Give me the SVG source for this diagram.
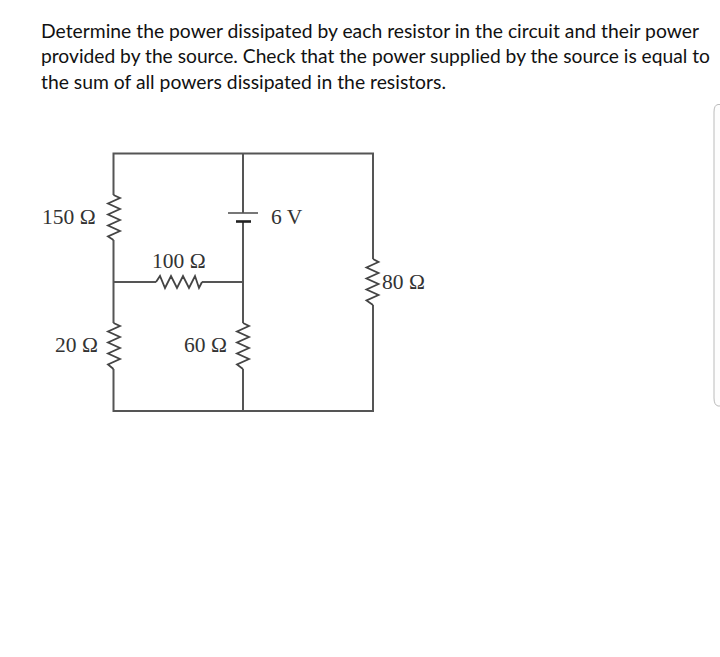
<svg xmlns="http://www.w3.org/2000/svg" width="720" height="657" viewBox="0 0 720 657">
<style>
.q{font-family:"Lato","Liberation Sans",sans-serif;font-size:19.5px;fill:#111}
.l{font-family:"Liberation Serif",serif;font-size:21.5px;fill:#333}
.w{fill:none;stroke:#555;stroke-width:2}
.r{fill:none;stroke:#444;stroke-width:1.8;stroke-linejoin:miter}
</style>
<rect width="720" height="657" fill="#fff"/>
<g id="question">
<text class="q" x="41" y="38" textLength="658" lengthAdjust="spacingAndGlyphs">Determine the power dissipated by each resistor in the circuit and their power</text>
<text class="q" x="41" y="63" textLength="669" lengthAdjust="spacingAndGlyphs">provided by the source. Check that the power supplied by the source is equal to</text>
<text class="q" x="41" y="88.500" textLength="405" lengthAdjust="spacingAndGlyphs">the sum of all powers dissipated in the resistors.</text>
</g>
<path id="panel-edge" d="M720 104.500H718Q714 105 714 112V398Q714 405 718 406H720" fill="#fdfdfd" stroke="#bbb" stroke-width="1"/>
<g id="connectors">
<path class="w" d="M113.500 195V153.500H373V259M373 305V411H113.500V369M113.500 323V240M113.500 282H156M202 282H243M243 153.500V213M243 221V323M243 369V411"/>
</g>
<g id="r150"><path class="r" d="M113.500 195L120 198L108 203.500L120 209L108 214.500L120 220L108 225.500L120 231L108 236.500L113.500 240"/><text class="l" x="42" y="224">150 Ω</text></g>
<g id="r100"><path class="r" d="M156 282L160 276L165 288L171 276L177 288L183 276L189 288L195 276L199 288L202 282"/><text class="l" x="152" y="268">100 Ω</text></g>
<g id="r20"><path class="r" d="M113.500 323L120 326L108 331.500L120 337L108 342.500L120 348L108 353.500L120 359L108 364.500L113.500 369"/><text class="l" x="55" y="352">20 Ω</text></g>
<g id="r60"><path class="r" d="M243 323L249 326L237 331.500L249 337L237 342.500L249 348L237 353.500L249 359L237 364.500L243 369"/><text class="l" x="184" y="352">60 Ω</text></g>
<g id="r80"><path class="r" d="M373 259L378.500 262L366.500 267.500L378.500 273L366.500 278.500L378.500 284L366.500 289.500L378.500 295L366.500 300.500L373 305"/><text class="l" x="382" y="288.500">80 Ω</text></g>
<g id="battery"><path d="M228 213H258" stroke="#555" stroke-width="1.600"/><path d="M236 221.500H251" stroke="#222" stroke-width="2.600"/><text class="l" x="271" y="224">6 V</text></g>
</svg>
